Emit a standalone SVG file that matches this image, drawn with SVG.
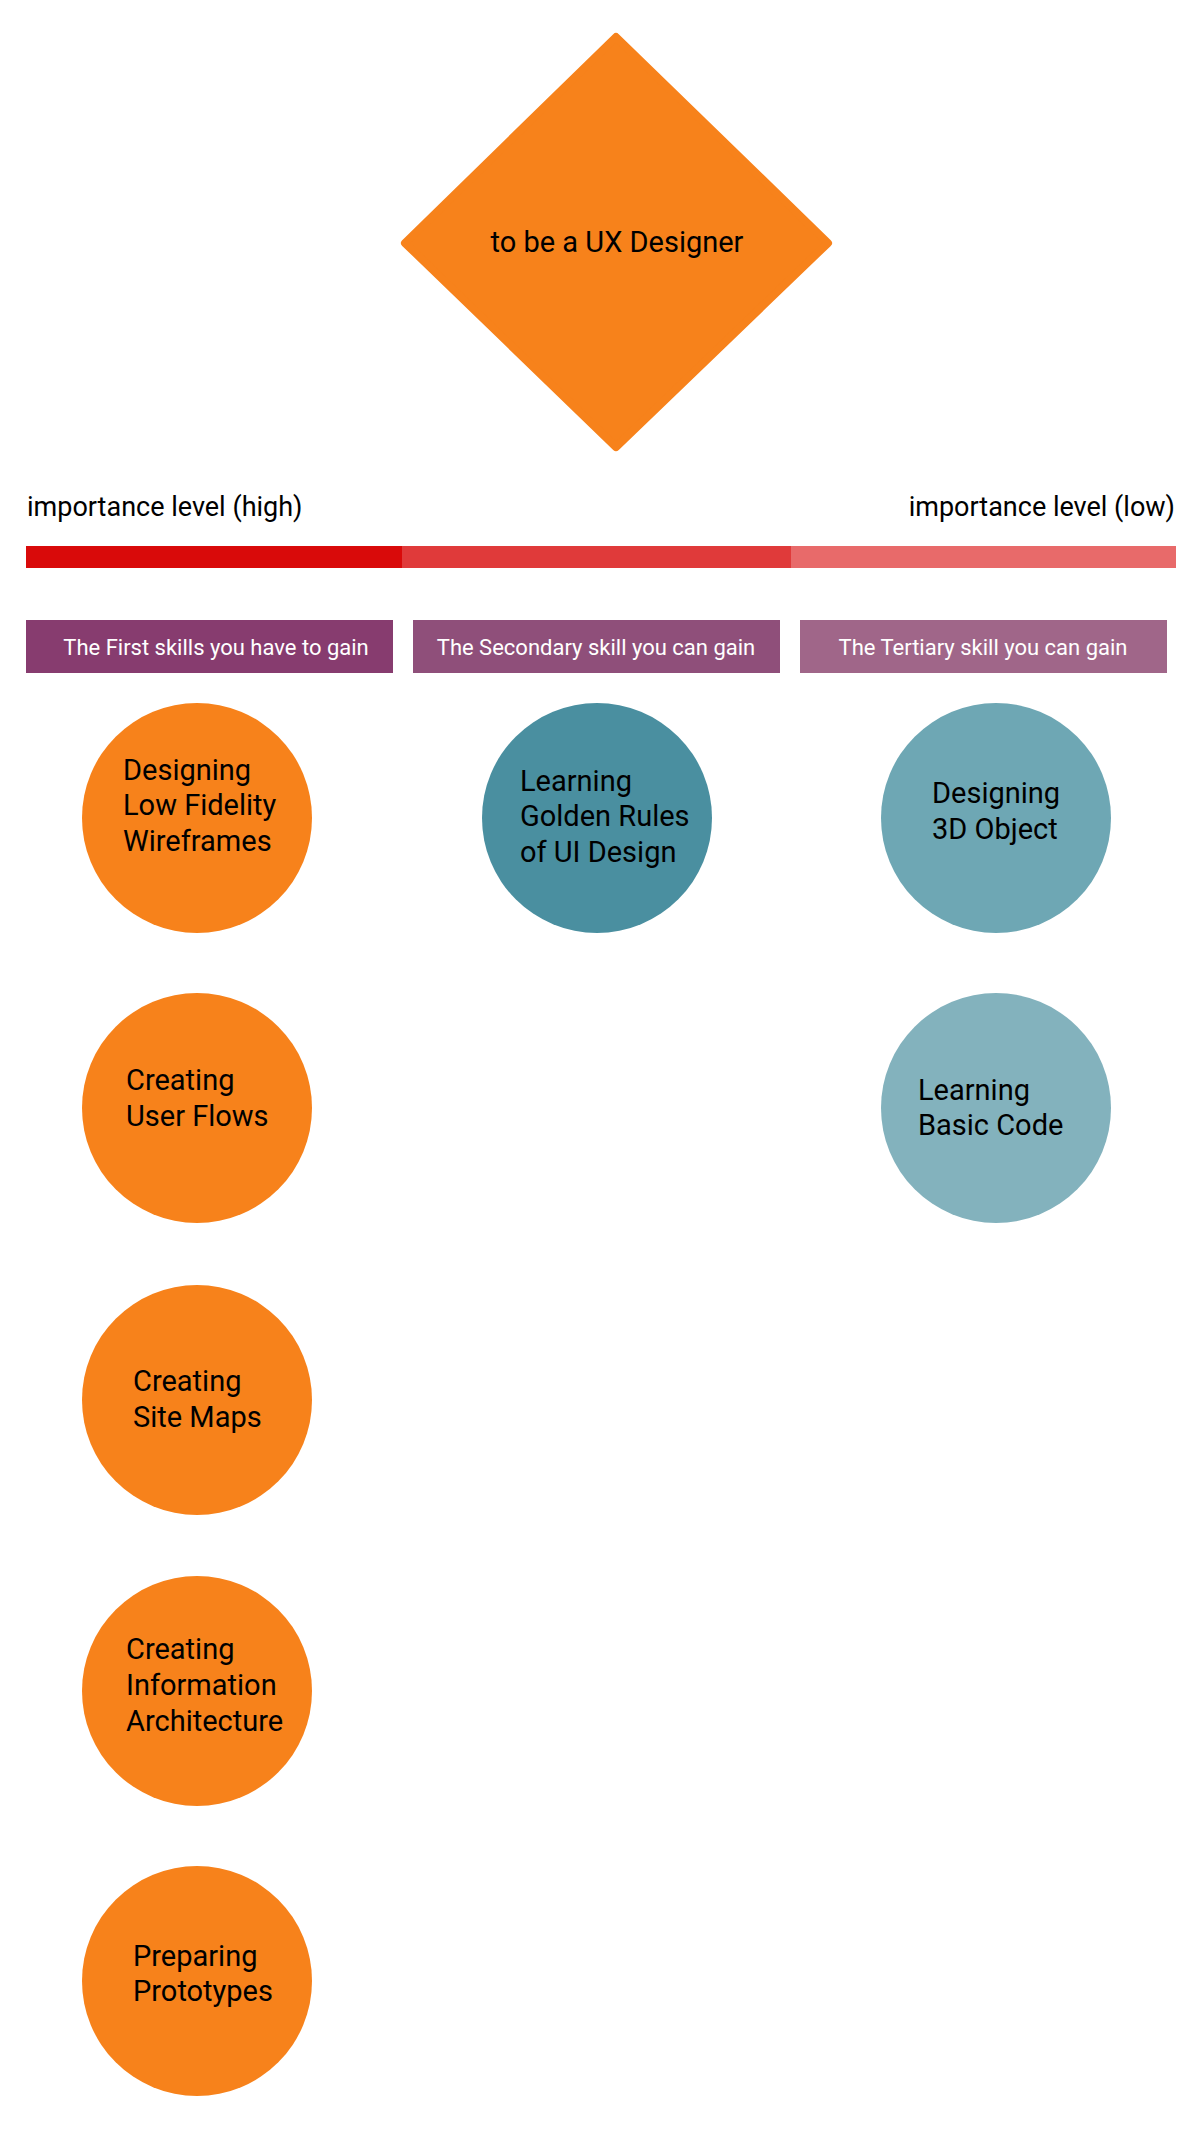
<svg xmlns="http://www.w3.org/2000/svg" width="1200" height="2131" viewBox="0 0 1200 2131">
<style>
text{font-family:Roboto,"Liberation Sans",sans-serif;fill:#000}
.n{font-size:29px}
.h{font-size:22px;fill:#fff;text-anchor:middle}
.o{fill:#F7821B}
</style>
<rect width="1200" height="2131" fill="#fff"/>
<g id="goal"><path d="M616 37 L828 243 L616 447 L405 243 Z" class="o" stroke="#F7821B" stroke-width="8" stroke-linejoin="round"/><text class="n" x="617" y="252" text-anchor="middle">to be a UX Designer</text></g>
<g id="scale">
<text x="27" y="516" font-size="27">importance level (high)</text>
<text x="1175" y="516" font-size="27" text-anchor="end">importance level (low)</text>
<rect x="26" y="546" width="376" height="22" fill="#D90A0A"/>
<rect x="402" y="546" width="389" height="22" fill="#E03A3A"/>
<rect x="791" y="546" width="385" height="22" fill="#E86A6A"/>
</g>
<g id="h1"><rect x="26" y="620" width="367" height="53" fill="#873C6F"/><text class="h" x="216" y="655">The First skills you have to gain</text></g>
<g id="h2"><rect x="413" y="620" width="367" height="53" fill="#8F4F7A"/><text class="h" x="596" y="655">The Secondary skill you can gain</text></g>
<g id="h3"><rect x="800" y="620" width="367" height="53" fill="#A06689"/><text class="h" x="983" y="655">The Tertiary skill you can gain</text></g>
<g id="n1"><circle cx="197" cy="818" r="115" class="o"/><text class="n" x="123"><tspan y="780" x="123">Designing</tspan><tspan y="815" x="123">Low Fidelity</tspan><tspan y="851" x="123">Wireframes</tspan></text></g>
<g id="n2"><circle cx="197" cy="1108" r="115" class="o"/><text class="n"><tspan y="1090" x="126">Creating</tspan><tspan y="1126" x="126">User Flows</tspan></text></g>
<g id="n3"><circle cx="197" cy="1400" r="115" class="o"/><text class="n"><tspan y="1391" x="133">Creating</tspan><tspan y="1427" x="133">Site Maps</tspan></text></g>
<g id="n4"><circle cx="197" cy="1691" r="115" class="o"/><text class="n"><tspan y="1659" x="126">Creating</tspan><tspan y="1695" x="126">Information</tspan><tspan y="1731" x="126">Architecture</tspan></text></g>
<g id="n5"><circle cx="197" cy="1981" r="115" class="o"/><text class="n"><tspan y="1966" x="133">Preparing</tspan><tspan y="2001" x="133">Prototypes</tspan></text></g>
<g id="n6"><circle cx="597" cy="818" r="115" fill="#4A8FA0"/><text class="n"><tspan y="791" x="520">Learning</tspan><tspan y="826" x="520">Golden Rules</tspan><tspan y="862" x="520">of UI Design</tspan></text></g>
<g id="n7"><circle cx="996" cy="818" r="115" fill="#6EA7B4"/><text class="n"><tspan y="803" x="932">Designing</tspan><tspan y="839" x="932">3D Object</tspan></text></g>
<g id="n8"><circle cx="996" cy="1108" r="115" fill="#83B2BD"/><text class="n"><tspan y="1100" x="918">Learning</tspan><tspan y="1135" x="918">Basic Code</tspan></text></g>
<g id="connectors"/>
</svg>
